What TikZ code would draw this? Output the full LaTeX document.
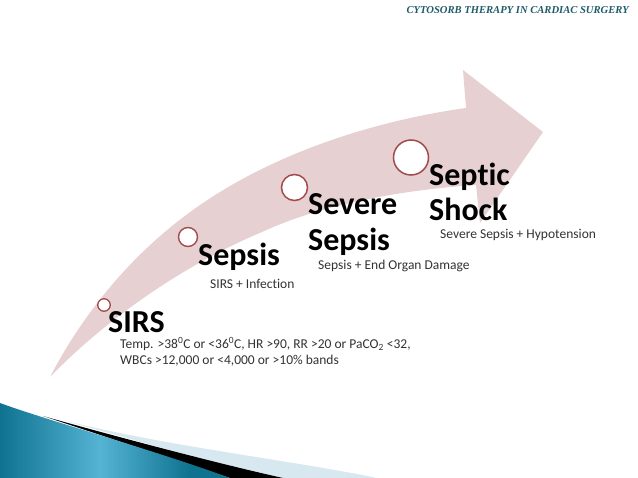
\documentclass[tikz,border=0pt]{standalone}
\usepackage{fontspec}
\setmainfont{Carlito}[Ligatures=NoCommon]
\newfontfamily\headfont{Liberation Serif}
\usetikzlibrary{calc}
\definecolor{arrowpink}{HTML}{E6D0D2}
\definecolor{ringred}{HTML}{A24A4C}
\definecolor{headteal}{HTML}{1F5C6B}
\definecolor{tealdark}{HTML}{0F7390}
\definecolor{teallight}{HTML}{55B3D3}
\definecolor{paleblue}{HTML}{D8E8F0}
\definecolor{bodytext}{HTML}{333333}
\tikzset{
  x=1pt,y=-1pt,
  stagehead/.style={font=\bfseries\fontsize{32}{32}\selectfont,anchor=north west,inner sep=0pt,align=left,text=black},
  stagenote/.style={font=\fontsize{13.5}{16}\selectfont,anchor=west,inner sep=0pt,align=left,text=bodytext},
  ring/.style={circle,draw=ringred,fill=white,inner sep=0pt}
}
\begin{document}
\begin{tikzpicture}
\useasboundingbox (0,0) rectangle (638,478);
\fill[white] (0,0) rectangle (638,478);
% arrow
\fill[arrowpink] (50,377) .. controls (85,310) and (135,250) .. (200,205)
  .. controls (280,150) and (380,120) .. (466,108) -- (463,70) -- (543,132) -- (480,223) -- (476,185)
  .. controls (400,190) and (320,205) .. (262,232)
  .. controls (190,262) and (110,315) .. (50,377) -- cycle;
% bottom band
\fill[paleblue] (62,420) .. controls (170,447) and (290,460) .. (377,478) -- (270,478) -- cycle;
\fill[black] (43,416) .. controls (85,428) and (210,462) .. (283,478) -- (230,478) -- cycle;
\begin{scope}
\clip (0,403) .. controls (40,418) and (160,452) .. (230,478) -- (0,478) -- cycle;
\shade[left color=tealdark,right color=teallight] (0,400) rectangle (100,478);
\shade[left color=teallight,right color=tealdark] (100,400) rectangle (190,478);
\fill[tealdark] (190,400) rectangle (240,478);
\end{scope}
% rings
\node[ring,line width=1.3pt,minimum size=12.5pt] (r1) at (104,305) {};
\node[ring,line width=1.4pt,minimum size=19pt] (r2) at (188,237) {};
\node[ring,line width=1.5pt,minimum size=26pt] (r3) at (294.5,187.5) {};
\node[ring,line width=1.5pt,minimum size=35pt] (r4) at (411,157.5) {};
% titles
\node[stagehead] (sirs) at (108,311) {SIRS};
\node[stagehead] (sepsis) at (198,243) {Sepsis};
\node[stagehead] (severe) at (308,193) {Severe\\[4pt]Sepsis};
\node[stagehead] (septic) at (429,163) {Septic\\[3pt]Shock};
% notes
\node[stagenote] (n1) at (120,352) {Temp. >38\textsuperscript{0}C or <36\textsuperscript{0}C, HR >90, RR >20 or PaCO\textsubscript{2} <32,\\WBCs >12,000 or <4,000 or >10\% bands};
\node[stagenote] (n2) at (210,284) {SIRS + Infection};
\node[stagenote] (n3) at (318,266) {Sepsis + End Organ Damage};
\node[stagenote] (n4) at (440,235) {Severe Sepsis + Hypotension};
% header
\node[font=\headfont\bfseries\itshape\fontsize{10.6}{12}\selectfont,text=headteal,anchor=east,inner sep=0pt] (hdr) at (629,10) {CYTOSORB THERAPY IN CARDIAC SURGERY};
\end{tikzpicture}
\end{document}
